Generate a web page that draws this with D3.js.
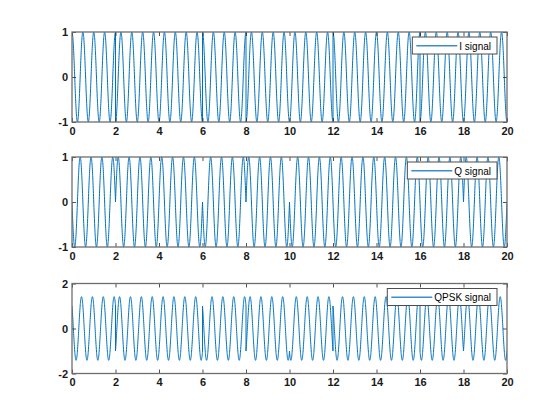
<!DOCTYPE html>
<html><head><meta charset="utf-8">
<script src="https://cdn.jsdelivr.net/npm/d3@7/dist/d3.min.js"></script>
<style>body{margin:0;background:#fff;} svg{display:block;}</style>
</head><body>
<svg id="chart" width="560" height="420"></svg>
<script>
// ---- data ----
const iSymbols = [1, -1, -1, 1, -1, -1, 1, 1, -1, -1];   // in-phase symbol per 2 s
const qSymbols = [-1, 1, 1, -1, 1, -1, -1, -1, -1, 1];   // quadrature symbol per 2 s
const symbolDuration = 2;   // seconds per symbol
const carrierFreq = 2;      // Hz
const xTicks = [0, 2, 4, 6, 8, 10, 12, 14, 16, 18, 20];
const iqYTicks = [-1, 0, 1];
const qpskYTicks = [-2, 0, 2];
const legendLabels = ["I signal", "Q signal", "QPSK signal"];
const samplesPerSymbol = 400;

// modulated waveforms built from the symbols
function buildSeries(kind) {
  const pts = [];
  iSymbols.forEach((iv, k) => {
    const qv = qSymbols[k];
    for (let n = 0; n <= samplesPerSymbol; n++) {
      const t = k * symbolDuration + n * symbolDuration / samplesPerSymbol;
      const c = Math.cos(2 * Math.PI * carrierFreq * t);
      const s = Math.sin(2 * Math.PI * carrierFreq * t);
      let v;
      if (kind === 0) v = iv * c;
      else if (kind === 1) v = qv * s;
      else v = iv * c + qv * s;
      pts.push([t, v]);
    }
  });
  return pts;
}

const panels = [
  { top: 32, yDomain: [-1, 1], yTicks: iqYTicks, label: legendLabels[0], data: buildSeries(0) },
  { top: 157, yDomain: [-1, 1], yTicks: iqYTicks, label: legendLabels[1], data: buildSeries(1) },
  { top: 283.5, yDomain: [-2, 2], yTicks: qpskYTicks, label: legendLabels[2], data: buildSeries(2) }
];

const svg = d3.select("#chart");
const left = 72, width = 435, height = 90;
const lineColor = "#0072BD";
const frameColor = "#6e6e6e";
const tickLen = 4;
const fmt = d => String(d);

const x = d3.scaleLinear().domain([0, 20]).range([left, left + width]);

panels.forEach((p, idx) => {
  const y = d3.scaleLinear().domain(p.yDomain).range([p.top + height, p.top]);
  const g = svg.append("g");

  const clipId = "clip" + idx;
  svg.append("clipPath").attr("id", clipId).append("rect")
    .attr("x", left).attr("y", p.top - 1).attr("width", width).attr("height", height + 2);

  // waveform
  g.append("path")
    .datum(p.data)
    .attr("clip-path", `url(#${clipId})`)
    .attr("fill", "none")
    .attr("stroke", lineColor)
    .attr("stroke-width", 1)
    .attr("stroke-linejoin", "round")
    .attr("d", d3.line().x(d => x(d[0])).y(d => y(d[1])));

  // axes
  const fontCss = "font-family:'Liberation Sans',Arial,sans-serif;font-weight:bold;font-size:11px";
  const bottom = g.append("g").attr("transform", `translate(0,${p.top + height})`)
    .call(d3.axisBottom(x).tickValues(xTicks).tickSizeInner(-tickLen).tickSizeOuter(0).tickPadding(5).tickFormat(fmt));
  const top = g.append("g").attr("transform", `translate(0,${p.top})`)
    .call(d3.axisTop(x).tickValues(xTicks).tickSizeInner(-tickLen).tickSizeOuter(0).tickFormat(""));
  const leftAx = g.append("g").attr("transform", `translate(${left},0)`)
    .call(d3.axisLeft(y).tickValues(p.yTicks).tickSizeInner(-tickLen).tickSizeOuter(0).tickPadding(4).tickFormat(fmt));
  const rightAx = g.append("g").attr("transform", `translate(${left + width},0)`)
    .call(d3.axisRight(y).tickValues(p.yTicks).tickSizeInner(-tickLen).tickSizeOuter(0).tickFormat(""));
  [bottom, top, leftAx, rightAx].forEach(a => {
    a.select(".domain").remove();
    a.selectAll(".tick line").attr("stroke", "#262626").attr("stroke-width", 0.8);
    a.selectAll(".tick text").attr("style", fontCss).attr("fill", "#1a1a1a");
  });

  // frame
  g.append("rect")
    .attr("x", left).attr("y", p.top).attr("width", width).attr("height", height)
    .attr("fill", "none").attr("stroke", frameColor).attr("stroke-width", 1.3);

  // legend
  const lg = g.append("g");
  const lh = 17;
  const txt = lg.append("text")
    .attr("style", "font-family:'Liberation Sans',Arial,sans-serif;font-size:10px")
    .attr("fill", "#000")
    .attr("dominant-baseline", "central")
    .text(p.label);
  const tw = txt.node().getComputedTextLength();
  const lw = 4 + 41 + 2 + tw + 6;
  const lx = left + width - 10 - lw;
  const ly = p.top + 5;
  lg.insert("rect", "text")
    .attr("x", lx).attr("y", ly).attr("width", lw).attr("height", lh)
    .attr("fill", "#fff").attr("stroke", "#4d4d4d").attr("stroke-width", 1);
  lg.append("rect")
    .attr("x", lx + 4).attr("width", 41)
    .attr("y", ly + lh / 2 - 0.5).attr("height", 1.5)
    .attr("fill", "#3d8fcc");
  txt.attr("x", lx + 47).attr("y", ly + lh / 2 + 0.5);
});
</script>
</body></html>
